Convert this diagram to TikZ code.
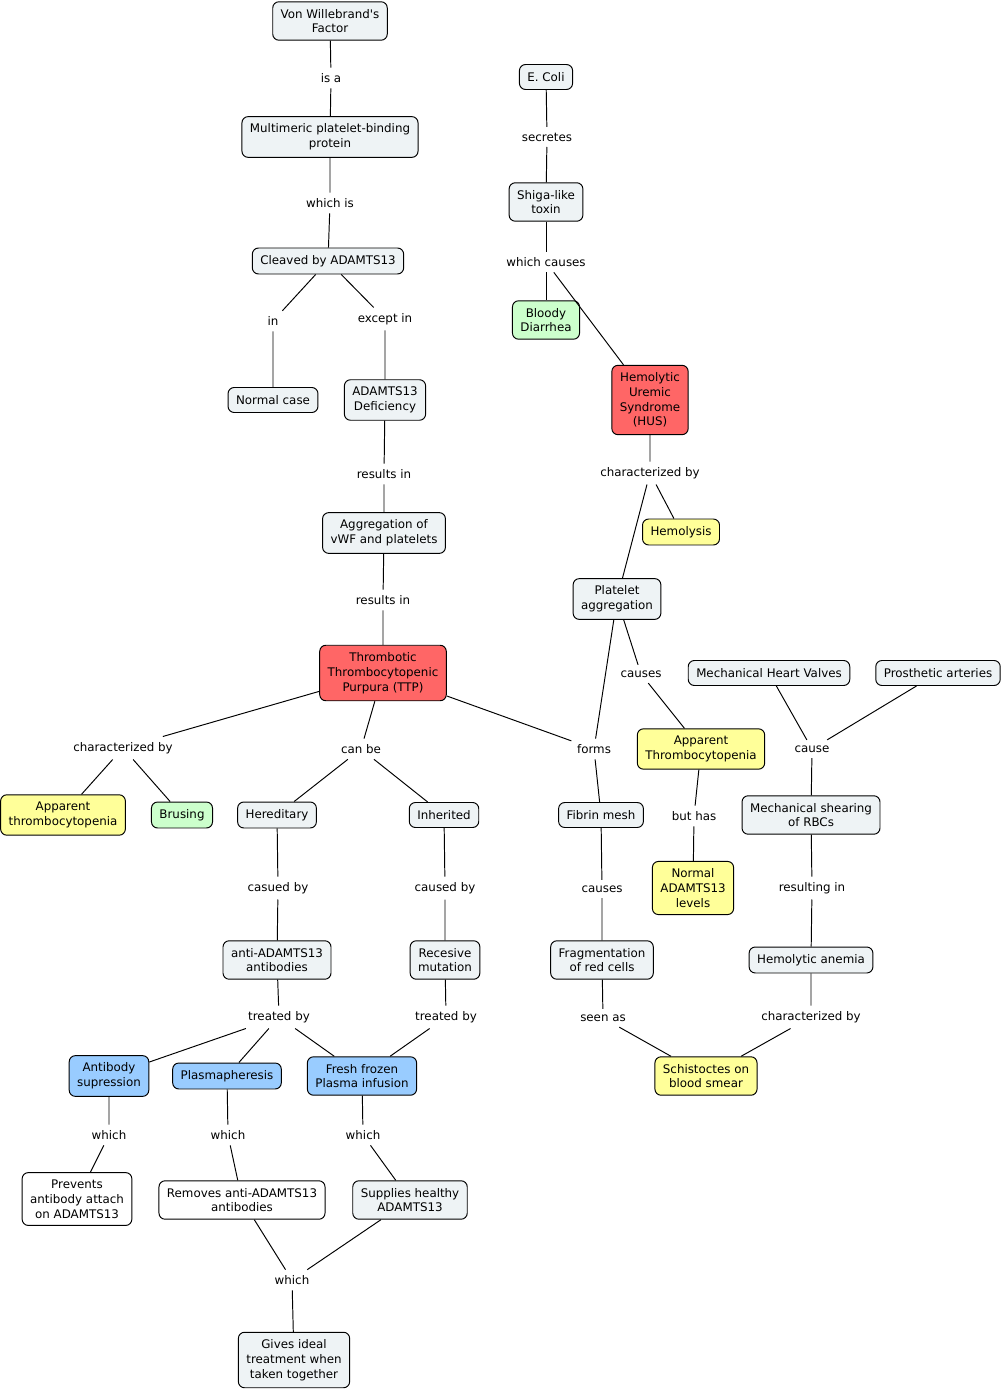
\documentclass[tikz,border=0pt]{standalone}
\usepackage{fontspec}
\setmainfont{DejaVu Sans}
\definecolor{mapgrey}{RGB}{238,243,245}
\definecolor{mapred}{RGB}{255,102,102}
\definecolor{mapyellow}{RGB}{255,255,153}
\definecolor{mapgreen}{RGB}{204,255,204}
\definecolor{mapblue}{RGB}{153,204,255}
\begin{document}
\begin{tikzpicture}[x=0.02cm,y=-0.02cm,line width=.55pt,
  font=\fontsize{6.75}{8.4}\selectfont,
  concept/.style={draw,fill=mapgrey,rounded corners=3.5pt,align=center,
    inner xsep=0.16cm,inner ysep=0.145cm,minimum height=0.5cm},
  redc/.style={concept,fill=mapred},
  yellowc/.style={concept,fill=mapyellow},
  greenc/.style={concept,fill=mapgreen},
  bluec/.style={concept,fill=mapblue},
  whitec/.style={concept,fill=white},
  link/.style={inner sep=3pt}]
  \useasboundingbox (0,0) rectangle (1004,1391);
  % von Willebrand chain
  \node[concept] (vwf) at (330,21) {Von Willebrand\textquotesingle s\\Factor};
  \node[concept] (multi) at (330,137) {Multimeric platelet-binding\\protein};
  \node[concept] (cleav) at (328,261) {Cleaved by ADAMTS13};
  \node[concept] (normal) at (273,400) {Normal case};
  \node[concept] (adamdef) at (385,400) {ADAMTS13\\Deficiency};
  \node[concept] (aggr) at (384,533) {Aggregation of\\vWF and platelets};
  \node[redc] (ttp) at (383,673) {Thrombotic\\Thrombocytopenic\\Purpura (TTP)};
  \node[yellowc] (apthA) at (63,815) {Apparent\\thrombocytopenia};
  \node[greenc] (brus) at (182,815) {Brusing};
  \node[concept] (hered) at (277,815) {Hereditary};
  \node[concept] (inher) at (444,815) {Inherited};
  \node[concept] (antiab) at (277,960) {anti-ADAMTS13\\antibodies};
  \node[concept] (recmut) at (445,960) {Recesive\\mutation};
  \node[bluec] (absup) at (109,1076) {Antibody\\supression};
  \node[bluec] (plasma) at (227,1076) {Plasmapheresis};
  \node[bluec] (ffp) at (362,1076) {Fresh frozen\\Plasma infusion};
  \node[whitec] (prev) at (77,1199) {Prevents\\antibody attach\\on ADAMTS13};
  \node[whitec] (remov) at (242,1200) {Removes anti-ADAMTS13\\antibodies};
  \node[concept] (suppl) at (410,1200) {Supplies healthy\\ADAMTS13};
  \node[concept] (gives) at (294,1360) {Gives ideal\\treatment when\\taken together};
  % E. coli chain
  \node[concept] (ecoli) at (546,77) {E. Coli};
  \node[concept] (shiga) at (546,202) {Shiga-like\\toxin};
  \node[greenc] (bloody) at (546,320) {Bloody\\Diarrhea};
  \node[redc] (hus) at (650,400) {Hemolytic\\Uremic\\Syndrome\\(HUS)};
  \node[yellowc] (hemol) at (681,532) {Hemolysis};
  \node[concept] (platag) at (617,599) {Platelet\\aggregation};
  \node[yellowc] (apthB) at (701,749) {Apparent\\Thrombocytopenia};
  \node[concept] (mhv) at (769,673) {Mechanical Heart Valves};
  \node[concept] (pros) at (938,673) {Prosthetic arteries};
  \node[concept] (fibrin) at (601,815) {Fibrin mesh};
  \node[yellowc] (normad) at (693,888) {Normal\\ADAMTS13\\levels};
  \node[concept] (shear) at (811,815) {Mechanical shearing\\of RBCs};
  \node[concept] (frag) at (602,960) {Fragmentation\\of red cells};
  \node[concept] (hanem) at (811,960) {Hemolytic anemia};
  \node[yellowc] (schis) at (706,1076) {Schistoctes on\\blood smear};
  % linking words
  \node[link] (isa) at (331,78) {is a};
  \node[link] (whichis) at (330,203) {which is};
  \node[link] (in) at (273,321) {in};
  \node[link] (exceptin) at (385,319) {except in};
  \node[link] (resA) at (384,474) {results in};
  \node[link] (resB) at (383,600) {results in};
  \node[link] (charA) at (123,748) {characterized by};
  \node[link] (canbe) at (361,749) {can be};
  \node[link] (forms) at (594,749) {forms};
  \node[link] (casued) at (278,888) {casued by};
  \node[link] (caused) at (445,888) {caused by};
  \node[link] (treatA) at (279,1017) {treated by};
  \node[link] (treatB) at (446,1017) {treated by};
  \node[link] (whichA) at (109,1135) {which};
  \node[link] (whichB) at (228,1135) {which};
  \node[link] (whichC) at (363,1135) {which};
  \node[link] (whichD) at (292,1280) {which};
  \node[link] (secretes) at (547,137) {secretes};
  \node[link] (whcauses) at (546,262) {which causes};
  \node[link] (charB) at (650,473) {characterized by};
  \node[link] (causesA) at (641,674) {causes};
  \node[link] (cause) at (812,749) {cause};
  \node[link] (buthas) at (694,816) {but has};
  \node[link] (causesB) at (602,889) {causes};
  \node[link] (resulting) at (812,888) {resulting in};
  \node[link] (seenas) at (603,1018) {seen as};
  \node[link] (charC) at (811,1017) {characterized by};
  % connectors
  \draw (vwf) -- (isa) -- (multi);
  \draw (multi) -- (whichis) -- (cleav);
  \draw (cleav) -- (in) -- (normal);
  \draw (cleav) -- (exceptin) -- (adamdef);
  \draw (adamdef) -- (resA) -- (aggr);
  \draw (aggr) -- (resB) -- (ttp);
  \draw (ttp) -- (charA) -- (apthA);
  \draw (charA) -- (brus);
  \draw (ttp) -- (canbe) -- (hered);
  \draw (canbe) -- (inher);
  \draw (ttp) -- (forms) -- (fibrin);
  \draw (platag) -- (forms);
  \draw (hered) -- (casued) -- (antiab);
  \draw (inher) -- (caused) -- (recmut);
  \draw (antiab) -- (treatA) -- (absup);
  \draw (treatA) -- (plasma);
  \draw (treatA) -- (ffp);
  \draw (recmut) -- (treatB) -- (ffp);
  \draw (absup) -- (whichA) -- (prev);
  \draw (plasma) -- (whichB) -- (remov);
  \draw (ffp) -- (whichC) -- (suppl);
  \draw (remov) -- (whichD) -- (gives);
  \draw (suppl) -- (whichD);
  \draw (ecoli) -- (secretes) -- (shiga);
  \draw (shiga) -- (whcauses) -- (bloody);
  \draw (whcauses) -- (hus);
  \draw (hus) -- (charB) -- (hemol);
  \draw (charB) -- (platag);
  \draw (platag) -- (causesA) -- (apthB);
  \draw (apthB) -- (buthas) -- (normad);
  \draw (mhv) -- (cause) -- (shear);
  \draw (pros) -- (cause);
  \draw (shear) -- (resulting) -- (hanem);
  \draw (fibrin) -- (causesB) -- (frag);
  \draw (frag) -- (seenas) -- (schis);
  \draw (hanem) -- (charC) -- (schis);
\end{tikzpicture}
\end{document}
